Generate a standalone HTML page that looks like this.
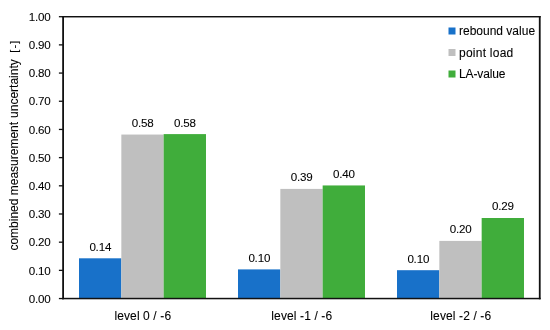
<!DOCTYPE html>
<html><head><meta charset="utf-8"><title>chart</title>
<style>html,body{margin:0;padding:0;background:#fff}svg{display:block}text{font-family:"Liberation Sans",sans-serif;font-size:12px;fill:#000;stroke:#000;stroke-width:0.08px}.n{font-size:11.6px;letter-spacing:-0.2px}.x{letter-spacing:0.12px}</style>
</head><body>
<svg width="550" height="330" viewBox="0 0 550 330">
<rect width="550" height="330" fill="#fff"/>
<rect x="79.00" y="258.30" width="42.33" height="40.25" fill="#1871c9"/>
<text class="n" x="100.27" y="250.70" text-anchor="middle">0.14</text>
<rect x="121.33" y="134.55" width="42.33" height="164.00" fill="#bfbfbf"/>
<text class="n" x="142.60" y="126.95" text-anchor="middle">0.58</text>
<rect x="163.66" y="134.10" width="42.33" height="164.45" fill="#40ad3b"/>
<text class="n" x="184.93" y="126.50" text-anchor="middle">0.58</text>
<text class="x" x="142.80" y="320.3" text-anchor="middle">level 0 / -6</text>
<rect x="238.00" y="269.40" width="42.33" height="29.15" fill="#1871c9"/>
<text class="n" x="259.27" y="261.80" text-anchor="middle">0.10</text>
<rect x="280.33" y="188.90" width="42.33" height="109.65" fill="#bfbfbf"/>
<text class="n" x="301.60" y="181.30" text-anchor="middle">0.39</text>
<rect x="322.66" y="185.45" width="42.33" height="113.10" fill="#40ad3b"/>
<text class="n" x="343.93" y="177.85" text-anchor="middle">0.40</text>
<text class="x" x="301.80" y="320.3" text-anchor="middle">level -1 / -6</text>
<rect x="397.00" y="270.20" width="42.33" height="28.35" fill="#1871c9"/>
<text class="n" x="418.27" y="262.60" text-anchor="middle">0.10</text>
<rect x="439.33" y="240.90" width="42.33" height="57.65" fill="#bfbfbf"/>
<text class="n" x="460.60" y="233.30" text-anchor="middle">0.20</text>
<rect x="481.66" y="218.00" width="42.33" height="80.55" fill="#40ad3b"/>
<text class="n" x="502.93" y="210.40" text-anchor="middle">0.29</text>
<text class="x" x="460.80" y="320.3" text-anchor="middle">level -2 / -6</text>
<g fill="#111">
<rect x="62.2" y="16" width="1.8" height="283.3"/>
<rect x="538.85" y="16" width="1.8" height="283.3"/>
<rect x="62.2" y="16" width="478.45" height="1.45"/>
<rect x="62.2" y="297.8" width="478.45" height="1.5"/>
<rect x="58.9" y="297.90" width="4" height="1.3"/>
<rect x="58.9" y="269.72" width="4" height="1.3"/>
<rect x="58.9" y="241.53" width="4" height="1.3"/>
<rect x="58.9" y="213.34" width="4" height="1.3"/>
<rect x="58.9" y="185.16" width="4" height="1.3"/>
<rect x="58.9" y="156.97" width="4" height="1.3"/>
<rect x="58.9" y="128.79" width="4" height="1.3"/>
<rect x="58.9" y="100.60" width="4" height="1.3"/>
<rect x="58.9" y="72.42" width="4" height="1.3"/>
<rect x="58.9" y="44.23" width="4" height="1.3"/>
<rect x="58.9" y="16.05" width="4" height="1.3"/>
</g>
<text class="n" x="50.6" y="302.75" text-anchor="end">0.00</text>
<text class="n" x="50.6" y="274.56" text-anchor="end">0.10</text>
<text class="n" x="50.6" y="246.38" text-anchor="end">0.20</text>
<text class="n" x="50.6" y="218.19" text-anchor="end">0.30</text>
<text class="n" x="50.6" y="190.01" text-anchor="end">0.40</text>
<text class="n" x="50.6" y="161.82" text-anchor="end">0.50</text>
<text class="n" x="50.6" y="133.64" text-anchor="end">0.60</text>
<text class="n" x="50.6" y="105.45" text-anchor="end">0.70</text>
<text class="n" x="50.6" y="77.27" text-anchor="end">0.80</text>
<text class="n" x="50.6" y="49.08" text-anchor="end">0.90</text>
<text class="n" x="50.6" y="20.90" text-anchor="end">1.00</text>
<text transform="translate(18,250.6) rotate(-90)" xml:space="preserve">combined measurement <tspan dx="0.6">uncertainty</tspan>  <tspan dx="-0.3" style="font-size:11.3px;letter-spacing:1.1px">[-]</tspan></text>
<rect x="448.5" y="27.5" width="7" height="7" fill="#1871c9"/>
<text x="459" y="35.1" style="letter-spacing:0px">rebound value</text>
<rect x="448.5" y="49.0" width="7" height="7" fill="#bfbfbf"/>
<text x="459" y="56.6" style="letter-spacing:0.25px">point load</text>
<rect x="448.5" y="70.5" width="7" height="7" fill="#40ad3b"/>
<text x="459" y="78.1" style="letter-spacing:-0.12px">LA-value</text>
</svg></body></html>
